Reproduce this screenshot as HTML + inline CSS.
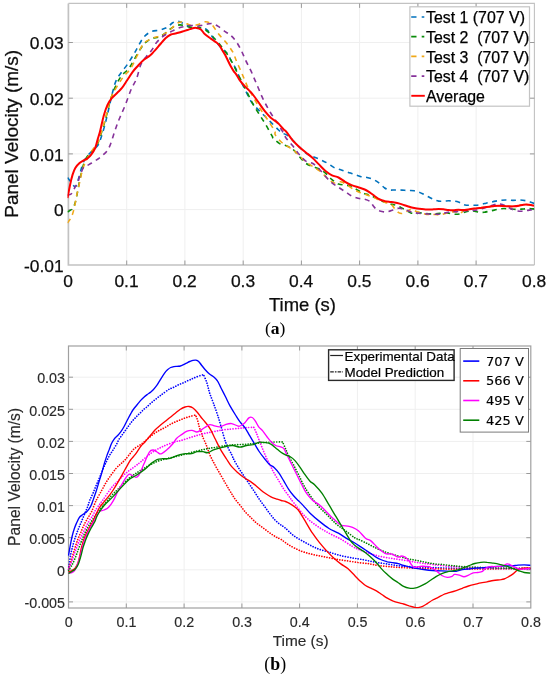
<!DOCTYPE html><html><head><meta charset="utf-8"><title>Panel Velocity</title>
<style>html,body{margin:0;padding:0;background:#fff;}svg{display:block;}</style></head><body>
<svg width="550" height="678" viewBox="0 0 550 678">
<rect x="0" y="0" width="550" height="678" fill="#fff"/>
<defs>
<clipPath id="ct"><rect x="67.5" y="3.4" width="466.9" height="261.6"/></clipPath>
<clipPath id="cb"><rect x="67.7" y="346.0" width="463.09999999999997" height="262.5"/></clipPath>
</defs>
<line x1="126.7" y1="3.4" x2="126.7" y2="265.0" stroke="#efefef" stroke-width="1"/>
<line x1="184.9" y1="3.4" x2="184.9" y2="265.0" stroke="#efefef" stroke-width="1"/>
<line x1="243.2" y1="3.4" x2="243.2" y2="265.0" stroke="#efefef" stroke-width="1"/>
<line x1="301.4" y1="3.4" x2="301.4" y2="265.0" stroke="#efefef" stroke-width="1"/>
<line x1="359.6" y1="3.4" x2="359.6" y2="265.0" stroke="#efefef" stroke-width="1"/>
<line x1="417.9" y1="3.4" x2="417.9" y2="265.0" stroke="#efefef" stroke-width="1"/>
<line x1="476.1" y1="3.4" x2="476.1" y2="265.0" stroke="#efefef" stroke-width="1"/>
<line x1="68.4" y1="42.5" x2="534.4" y2="42.5" stroke="#efefef" stroke-width="1"/>
<line x1="68.4" y1="98.2" x2="534.4" y2="98.2" stroke="#efefef" stroke-width="1"/>
<line x1="68.4" y1="153.9" x2="534.4" y2="153.9" stroke="#efefef" stroke-width="1"/>
<line x1="68.4" y1="209.6" x2="534.4" y2="209.6" stroke="#efefef" stroke-width="1"/>
<path d="M68.4,3.4 H534.4 V265.0" fill="none" stroke="#c2c2c2" stroke-width="1.1"/>
<path d="M68.4,3.4 V265.0 H534.4" fill="none" stroke="#c2c2c2" stroke-width="1.7"/>
<line x1="126.7" y1="265.0" x2="126.7" y2="260.5" stroke="#9a9a9a" stroke-width="1"/>
<line x1="126.7" y1="3.4" x2="126.7" y2="7.9" stroke="#9a9a9a" stroke-width="1"/>
<line x1="184.9" y1="265.0" x2="184.9" y2="260.5" stroke="#9a9a9a" stroke-width="1"/>
<line x1="184.9" y1="3.4" x2="184.9" y2="7.9" stroke="#9a9a9a" stroke-width="1"/>
<line x1="243.2" y1="265.0" x2="243.2" y2="260.5" stroke="#9a9a9a" stroke-width="1"/>
<line x1="243.2" y1="3.4" x2="243.2" y2="7.9" stroke="#9a9a9a" stroke-width="1"/>
<line x1="301.4" y1="265.0" x2="301.4" y2="260.5" stroke="#9a9a9a" stroke-width="1"/>
<line x1="301.4" y1="3.4" x2="301.4" y2="7.9" stroke="#9a9a9a" stroke-width="1"/>
<line x1="359.6" y1="265.0" x2="359.6" y2="260.5" stroke="#9a9a9a" stroke-width="1"/>
<line x1="359.6" y1="3.4" x2="359.6" y2="7.9" stroke="#9a9a9a" stroke-width="1"/>
<line x1="417.9" y1="265.0" x2="417.9" y2="260.5" stroke="#9a9a9a" stroke-width="1"/>
<line x1="417.9" y1="3.4" x2="417.9" y2="7.9" stroke="#9a9a9a" stroke-width="1"/>
<line x1="476.1" y1="265.0" x2="476.1" y2="260.5" stroke="#9a9a9a" stroke-width="1"/>
<line x1="476.1" y1="3.4" x2="476.1" y2="7.9" stroke="#9a9a9a" stroke-width="1"/>
<line x1="68.4" y1="42.5" x2="72.9" y2="42.5" stroke="#9a9a9a" stroke-width="1"/>
<line x1="534.4" y1="42.5" x2="529.9" y2="42.5" stroke="#9a9a9a" stroke-width="1"/>
<line x1="68.4" y1="98.2" x2="72.9" y2="98.2" stroke="#9a9a9a" stroke-width="1"/>
<line x1="534.4" y1="98.2" x2="529.9" y2="98.2" stroke="#9a9a9a" stroke-width="1"/>
<line x1="68.4" y1="153.9" x2="72.9" y2="153.9" stroke="#9a9a9a" stroke-width="1"/>
<line x1="534.4" y1="153.9" x2="529.9" y2="153.9" stroke="#9a9a9a" stroke-width="1"/>
<line x1="68.4" y1="209.6" x2="72.9" y2="209.6" stroke="#9a9a9a" stroke-width="1"/>
<line x1="534.4" y1="209.6" x2="529.9" y2="209.6" stroke="#9a9a9a" stroke-width="1"/>
<g clip-path="url(#ct)" fill="none" stroke-linejoin="round">
<path d="M67.5,177.5 C68.1,178.3 70.1,181.0 71.3,182.5 C72.5,184.0 73.7,186.1 74.6,186.5 C75.5,186.9 75.8,187.0 76.6,185.2 C77.4,183.4 78.4,179.0 79.3,175.9 C80.2,172.8 81.0,169.3 81.9,166.6 C82.8,163.9 83.5,161.9 84.6,159.9 C85.7,157.9 87.0,156.4 88.6,154.6 C90.1,152.8 92.4,150.9 93.9,149.3 C95.5,147.8 96.9,146.8 97.9,145.3 C99.0,143.8 99.1,143.3 100.2,140.2 C101.3,137.0 103.2,131.1 104.5,126.4 C105.8,121.7 106.6,117.8 108.0,112.0 C109.4,106.2 111.3,97.1 112.7,91.8 C114.1,86.5 114.9,83.3 116.4,80.0 C117.9,76.7 120.0,74.4 121.8,71.8 C123.6,69.2 125.3,67.4 127.3,64.5 C129.3,61.6 131.8,57.5 133.6,54.5 C135.4,51.5 136.5,49.3 138.2,46.4 C139.9,43.5 141.5,39.7 143.6,37.3 C145.7,34.9 148.2,33.0 150.9,31.8 C153.6,30.6 157.3,30.8 160.0,30.0 C162.7,29.2 165.2,28.5 167.3,27.3 C169.4,26.1 170.9,23.7 172.7,22.7 C174.5,21.7 176.4,21.1 178.2,21.3 C180.0,21.5 181.8,22.7 183.6,23.6 C185.4,24.5 187.2,25.9 189.0,26.7 C190.8,27.5 192.8,28.0 194.5,28.2 C196.2,28.4 197.8,27.6 199.0,27.6 C200.2,27.6 200.4,27.8 201.8,28.2 C203.2,28.6 205.5,28.5 207.3,30.0 C209.1,31.5 210.6,34.6 212.7,37.3 C214.8,40.0 217.6,43.7 220.0,46.4 C222.4,49.1 225.4,51.1 227.3,53.6 C229.2,56.1 229.9,58.5 231.5,61.3 C233.1,64.1 235.1,67.0 236.6,70.2 C238.1,73.4 239.0,77.0 240.5,80.4 C242.0,83.8 243.8,87.1 245.5,90.5 C247.2,93.9 248.7,97.7 250.6,100.7 C252.5,103.7 254.9,106.1 257.0,108.4 C259.1,110.7 261.1,112.4 263.4,114.7 C265.7,117.0 268.5,119.9 271.0,122.4 C273.5,125.0 276.8,128.3 278.6,130.0 C280.4,131.7 280.2,131.7 281.8,132.7 C283.4,133.7 286.2,134.4 288.4,136.0 C290.6,137.6 292.7,140.3 294.9,142.5 C297.1,144.7 299.3,147.1 301.5,149.1 C303.7,151.1 305.8,153.2 308.0,154.5 C310.2,155.8 312.3,156.3 314.5,157.2 C316.7,158.1 318.9,159.0 321.1,160.0 C323.3,161.0 325.4,162.0 327.6,163.3 C329.8,164.6 332.0,166.5 334.2,167.6 C336.4,168.7 338.5,169.1 340.7,169.8 C342.9,170.5 345.1,171.3 347.3,172.0 C349.5,172.7 351.6,173.5 353.8,174.2 C356.0,174.9 358.2,175.8 360.4,176.4 C362.6,177.0 364.7,177.0 366.9,177.5 C369.1,178.0 371.5,178.7 373.5,179.6 C375.5,180.5 377.0,181.5 378.9,182.9 C380.8,184.3 382.9,186.8 384.7,188.0 C386.5,189.2 388.0,189.7 389.6,190.0 C391.2,190.3 392.9,190.0 394.5,190.0 C396.1,190.0 397.9,189.9 399.5,190.0 C401.1,190.1 402.8,190.2 404.4,190.3 C406.0,190.4 407.7,190.4 409.3,190.5 C410.9,190.6 412.6,190.5 414.2,190.8 C415.8,191.1 417.5,191.5 419.1,192.1 C420.7,192.7 422.4,193.7 424.0,194.5 C425.6,195.3 427.3,196.2 428.9,197.0 C430.5,197.8 432.2,198.8 433.8,199.5 C435.4,200.2 437.1,200.8 438.7,201.1 C440.3,201.4 442.0,201.1 443.6,201.1 C445.2,201.1 447.0,200.8 448.6,200.8 C450.2,200.8 451.9,200.9 453.5,201.1 C455.1,201.3 456.8,201.3 458.4,201.9 C460.0,202.5 461.8,203.9 463.1,204.4 C464.4,204.9 465.0,205.1 466.4,205.2 C467.8,205.3 469.7,205.2 471.3,205.2 C472.9,205.2 474.6,205.3 476.2,205.2 C477.8,205.1 479.5,204.7 481.1,204.4 C482.7,204.1 484.4,203.6 486.0,203.2 C487.6,202.8 489.3,202.5 490.9,202.2 C492.5,201.8 494.2,201.4 495.8,201.1 C497.4,200.8 499.1,200.5 500.7,200.3 C502.3,200.1 504.0,200.0 505.6,200.0 C507.2,200.0 509.0,200.2 510.6,200.3 C512.2,200.4 513.9,200.4 515.5,200.3 C517.1,200.2 518.8,199.9 520.4,200.0 C522.0,200.1 523.7,200.3 525.3,200.6 C526.9,200.9 528.7,201.4 530.2,201.9 C531.7,202.4 533.6,203.3 534.3,203.6" stroke="#0072BD" stroke-width="1.6" stroke-dasharray="5 4.5"/>
<path d="M67.5,212.0 C68.3,211.4 71.3,210.0 72.6,208.4 C73.9,206.8 74.5,205.0 75.3,202.5 C76.1,200.0 76.6,196.5 77.3,193.2 C78.0,189.9 78.6,185.8 79.3,182.5 C80.0,179.2 80.6,176.1 81.3,173.2 C82.0,170.3 82.5,167.6 83.3,165.2 C84.1,162.8 84.8,160.6 85.9,158.6 C87.0,156.6 88.6,154.9 89.9,153.3 C91.2,151.8 92.5,151.2 93.9,149.3 C95.3,147.4 96.5,146.8 98.3,142.1 C100.1,137.4 102.9,128.3 105.0,121.0 C107.1,113.7 109.0,104.6 110.9,98.5 C112.8,92.4 114.6,88.3 116.4,84.5 C118.2,80.7 119.7,78.2 121.8,75.5 C123.9,72.8 126.9,71.0 129.0,68.2 C131.1,65.5 132.5,62.3 134.5,59.0 C136.5,55.7 138.9,51.1 140.9,48.2 C142.9,45.3 144.4,43.5 146.4,41.8 C148.4,40.1 150.7,39.0 152.7,38.2 C154.7,37.5 156.4,37.9 158.2,37.3 C160.0,36.7 161.8,35.7 163.6,34.5 C165.4,33.3 167.2,31.4 169.0,30.0 C170.8,28.6 172.7,27.2 174.5,26.4 C176.3,25.5 178.2,25.0 180.0,24.9 C181.8,24.8 183.7,25.6 185.5,26.0 C187.3,26.4 189.2,26.9 191.0,27.3 C192.8,27.7 195.2,28.2 196.4,28.2 C197.6,28.2 196.7,27.0 198.2,27.3 C199.7,27.6 203.2,28.6 205.5,30.0 C207.8,31.4 209.7,33.4 211.8,35.5 C213.9,37.6 215.9,40.0 218.2,42.7 C220.5,45.4 223.3,48.7 225.5,51.8 C227.7,54.9 229.4,57.6 231.5,61.3 C233.6,65.0 236.0,70.2 237.9,74.0 C239.8,77.8 241.3,80.8 243.0,84.2 C244.7,87.6 246.4,91.0 248.1,94.4 C249.8,97.8 251.3,101.1 253.2,104.5 C255.1,107.9 257.4,111.3 259.5,114.7 C261.6,118.1 263.8,121.3 265.9,124.9 C268.0,128.5 271.1,134.2 272.3,136.4 C273.5,138.6 271.9,137.0 273.1,138.2 C274.3,139.4 277.4,142.3 279.6,143.6 C281.8,144.9 284.0,144.9 286.2,145.8 C288.4,146.7 290.5,147.3 292.7,149.1 C294.9,150.9 297.1,154.3 299.3,156.7 C301.5,159.1 303.6,161.7 305.8,163.3 C308.0,164.9 310.2,165.6 312.4,166.5 C314.6,167.4 316.7,167.6 318.9,168.7 C321.1,169.8 323.3,171.3 325.5,173.1 C327.7,174.9 329.8,177.8 332.0,179.6 C334.2,181.4 336.3,183.1 338.5,184.0 C340.7,184.9 342.9,184.7 345.1,185.1 C347.3,185.5 349.4,185.3 351.6,186.2 C353.8,187.1 356.0,189.2 358.2,190.5 C360.4,191.8 362.9,193.1 364.7,193.8 C366.5,194.5 367.4,194.3 369.1,194.9 C370.8,195.5 373.0,196.6 375.0,197.5 C377.0,198.4 379.1,199.6 381.0,200.5 C382.9,201.4 384.5,202.0 386.4,202.7 C388.2,203.3 390.5,204.0 392.1,204.4 C393.7,204.8 394.7,204.7 396.2,205.2 C397.7,205.7 399.5,206.8 401.1,207.6 C402.7,208.4 404.4,209.2 406.0,210.1 C407.6,211.0 409.3,212.3 410.9,212.9 C412.5,213.5 414.2,213.5 415.8,213.5 C417.4,213.5 419.1,212.9 420.7,212.9 C422.3,212.9 424.0,213.2 425.6,213.4 C427.2,213.6 429.0,213.8 430.6,213.9 C432.2,214.0 433.9,214.0 435.5,213.9 C437.1,213.8 438.8,213.6 440.4,213.4 C442.0,213.2 443.7,212.9 445.3,212.9 C446.9,212.9 448.6,213.2 450.2,213.4 C451.8,213.6 453.5,214.2 455.1,214.3 C456.7,214.4 458.2,214.2 459.8,213.9 C461.4,213.6 463.1,212.6 464.7,212.2 C466.3,211.8 468.0,211.4 469.6,211.2 C471.2,211.0 472.9,211.0 474.5,211.2 C476.1,211.4 477.9,212.0 479.5,212.2 C481.1,212.4 482.8,212.4 484.4,212.2 C486.0,212.0 487.7,211.5 489.3,211.2 C490.9,210.8 492.6,210.5 494.2,210.1 C495.8,209.7 497.5,209.3 499.1,209.0 C500.7,208.7 502.4,208.5 504.0,208.5 C505.6,208.5 507.3,208.9 508.9,209.0 C510.5,209.1 512.2,209.2 513.8,209.3 C515.4,209.4 517.1,209.4 518.7,209.3 C520.3,209.2 522.0,209.1 523.6,209.0 C525.2,208.9 526.8,208.5 528.6,208.5 C530.4,208.5 533.3,208.9 534.3,209.0" stroke="#0a8c0a" stroke-width="1.6" stroke-dasharray="5 4.5"/>
<path d="M67.5,223.0 C68.1,222.0 70.2,219.4 71.3,217.1 C72.4,214.8 73.1,212.6 74.0,209.1 C74.9,205.6 75.7,200.0 76.6,195.8 C77.5,191.6 78.4,187.9 79.3,183.9 C80.2,179.9 81.0,175.2 81.9,171.9 C82.8,168.6 83.5,166.6 84.6,163.9 C85.7,161.2 87.0,158.6 88.6,155.9 C90.1,153.2 92.3,150.3 93.9,148.0 C95.5,145.7 96.2,146.7 98.0,142.0 C99.8,137.3 102.8,127.3 105.0,120.0 C107.2,112.7 108.7,103.9 110.9,98.0 C113.1,92.1 116.0,88.2 118.2,84.5 C120.4,80.8 121.9,78.7 124.0,76.0 C126.1,73.3 128.7,71.6 130.9,68.2 C133.1,64.8 135.2,59.6 137.3,55.5 C139.4,51.4 141.0,46.5 143.6,43.6 C146.2,40.7 150.0,39.5 152.7,38.2 C155.4,36.9 157.8,36.9 160.0,36.0 C162.2,35.1 164.0,34.3 166.0,33.0 C168.0,31.7 170.0,29.7 172.0,28.0 C174.0,26.3 176.3,23.6 178.2,22.7 C180.1,21.8 181.5,21.9 183.6,22.4 C185.7,22.9 188.5,25.1 190.9,25.5 C193.3,25.9 195.8,25.1 198.2,24.5 C200.6,23.9 203.2,21.8 205.5,21.8 C207.8,21.8 209.7,22.5 211.8,24.5 C213.9,26.5 215.9,30.7 218.2,33.6 C220.5,36.5 223.1,38.8 225.5,41.8 C227.9,44.8 230.9,48.8 232.7,51.8 C234.4,54.8 234.7,56.9 236.0,60.0 C237.3,63.1 239.1,67.0 240.5,70.2 C241.9,73.4 243.0,76.1 244.3,79.1 C245.6,82.1 246.6,85.0 248.1,88.0 C249.6,91.0 251.5,93.9 253.2,96.9 C254.9,99.9 256.6,103.0 258.3,105.8 C260.0,108.6 261.7,111.0 263.4,113.5 C265.1,116.0 266.6,118.1 268.5,121.1 C270.4,124.1 273.7,129.0 274.8,131.3 C275.9,133.6 274.1,133.0 275.3,134.9 C276.5,136.8 279.6,140.5 281.8,142.5 C284.0,144.5 286.2,145.4 288.4,146.9 C290.6,148.4 292.7,149.5 294.9,151.3 C297.1,153.1 299.3,155.8 301.5,157.8 C303.7,159.8 305.8,161.7 308.0,163.3 C310.2,164.9 312.3,166.2 314.5,167.6 C316.7,169.0 318.9,170.2 321.1,172.0 C323.3,173.8 325.4,176.7 327.6,178.5 C329.8,180.3 332.0,182.3 334.2,182.9 C336.4,183.5 338.5,181.4 340.7,181.8 C342.9,182.2 345.1,183.8 347.3,185.1 C349.5,186.4 351.6,188.2 353.8,189.5 C356.0,190.8 358.2,191.8 360.4,192.7 C362.6,193.6 364.6,194.1 366.9,194.9 C369.2,195.7 371.6,196.5 374.0,197.5 C376.4,198.5 379.4,200.2 381.5,201.1 C383.6,202.0 384.8,202.1 386.4,202.7 C388.0,203.2 389.9,203.4 391.3,204.4 C392.7,205.4 393.3,207.1 394.5,208.5 C395.7,209.9 397.2,211.8 398.6,212.6 C400.0,213.4 401.2,213.7 402.7,213.4 C404.2,213.1 406.1,211.6 407.6,210.9 C409.1,210.2 410.3,209.2 411.7,209.3 C413.1,209.4 414.3,210.6 415.8,211.2 C417.3,211.8 419.1,212.1 420.7,212.6 C422.3,213.1 424.0,213.9 425.6,214.2 C427.2,214.5 429.0,214.4 430.6,214.5 C432.2,214.6 433.9,214.4 435.5,214.5 C437.1,214.6 438.8,215.2 440.4,215.0 C442.0,214.8 443.7,213.9 445.3,213.4 C446.9,212.9 448.6,212.5 450.2,212.2 C451.8,211.9 453.5,211.5 455.1,211.7 C456.7,211.9 458.2,213.7 459.8,213.4 C461.4,213.1 463.1,210.8 464.7,210.1 C466.3,209.4 468.0,209.6 469.6,209.3 C471.2,209.0 472.9,208.7 474.5,208.5 C476.1,208.3 477.9,208.2 479.5,208.0 C481.1,207.8 482.8,207.5 484.4,207.3 C486.0,207.1 487.7,206.9 489.3,206.7 C490.9,206.5 492.6,206.2 494.2,206.0 C495.8,205.8 497.5,205.7 499.1,205.7 C500.7,205.7 502.4,205.9 504.0,206.0 C505.6,206.1 507.3,206.2 508.9,206.3 C510.5,206.4 512.2,206.4 513.8,206.3 C515.4,206.2 517.1,206.0 518.7,205.7 C520.3,205.4 522.0,204.9 523.6,204.7 C525.2,204.5 526.9,204.5 528.6,204.7 C530.3,204.9 533.1,205.5 534.0,205.7" stroke="#F0A818" stroke-width="1.6" stroke-dasharray="5 4.5"/>
<path d="M67.5,195.3 C68.2,195.0 70.7,194.7 72.0,193.2 C73.3,191.7 74.4,188.1 75.3,186.5 C76.2,184.9 76.5,185.7 77.3,183.9 C78.1,182.1 78.9,178.6 79.9,175.9 C80.9,173.2 82.2,169.6 83.3,167.9 C84.4,166.2 85.3,166.7 86.6,165.9 C87.9,165.1 89.5,164.3 91.2,163.3 C92.9,162.3 94.8,161.1 96.6,159.9 C98.4,158.7 99.9,157.9 101.9,155.9 C104.0,153.9 106.6,152.4 108.9,147.9 C111.2,143.4 113.8,133.8 115.6,128.7 C117.4,123.6 118.3,121.3 120.0,117.3 C121.7,113.3 123.7,109.0 125.5,104.5 C127.3,100.0 129.1,94.2 130.9,90.0 C132.7,85.8 134.7,83.2 136.4,79.0 C138.1,74.8 139.2,68.3 140.9,64.5 C142.6,60.7 144.6,58.8 146.4,56.4 C148.2,54.0 150.1,52.3 151.8,50.0 C153.5,47.7 154.7,44.8 156.4,42.7 C158.1,40.6 160.0,38.8 161.8,37.3 C163.6,35.8 165.5,34.7 167.3,33.6 C169.1,32.5 170.9,31.8 172.7,30.9 C174.5,30.0 176.4,28.9 178.2,28.2 C180.0,27.5 181.5,27.1 183.6,26.7 C185.7,26.2 188.5,25.6 190.9,25.5 C193.3,25.4 195.8,26.2 198.2,26.0 C200.6,25.8 203.2,24.9 205.5,24.5 C207.8,24.1 209.7,23.3 211.8,23.6 C213.9,23.9 215.9,25.0 218.2,26.4 C220.5,27.8 223.4,30.3 225.5,31.8 C227.6,33.3 229.1,33.8 230.9,35.5 C232.7,37.2 234.6,39.2 236.4,41.8 C238.2,44.4 240.0,48.0 241.5,51.0 C243.0,54.0 244.0,56.8 245.5,60.0 C247.0,63.2 249.1,67.0 250.6,70.2 C252.1,73.4 253.2,76.1 254.5,79.1 C255.8,82.1 257.0,85.0 258.3,88.0 C259.6,91.0 260.8,94.2 262.1,96.9 C263.4,99.7 264.4,101.7 265.9,104.5 C267.4,107.3 269.3,110.7 271.0,113.5 C272.7,116.3 274.2,118.1 276.1,121.1 C278.0,124.1 280.8,128.5 282.5,131.3 C284.2,134.2 284.5,135.8 286.2,138.2 C287.9,140.6 290.5,143.1 292.7,145.8 C294.9,148.5 297.1,151.9 299.3,154.5 C301.5,157.1 303.6,159.6 305.8,161.1 C308.0,162.6 310.2,162.0 312.4,163.3 C314.6,164.6 316.7,166.5 318.9,168.7 C321.1,170.9 323.3,174.0 325.5,176.4 C327.7,178.8 329.8,181.1 332.0,182.9 C334.2,184.7 336.3,185.9 338.5,187.3 C340.7,188.8 342.9,190.2 345.1,191.6 C347.3,193.0 349.4,194.9 351.6,196.0 C353.8,197.1 356.0,197.6 358.2,198.2 C360.4,198.8 362.6,198.7 364.7,199.3 C366.8,199.9 369.1,200.7 370.5,201.8 C371.9,202.9 372.2,204.6 373.3,206.0 C374.4,207.4 375.8,209.2 377.4,210.1 C379.0,211.0 381.3,211.4 383.1,211.7 C384.9,212.0 386.4,212.0 388.0,211.7 C389.6,211.4 391.4,210.6 392.9,210.1 C394.4,209.6 395.6,208.8 397.0,208.5 C398.4,208.2 399.6,208.2 401.1,208.5 C402.6,208.8 404.4,209.6 406.0,210.1 C407.6,210.6 409.3,211.2 410.9,211.7 C412.5,212.2 414.2,212.6 415.8,212.9 C417.4,213.2 419.1,213.2 420.7,213.4 C422.3,213.6 424.0,213.8 425.6,213.9 C427.2,214.0 429.0,214.1 430.6,214.2 C432.2,214.2 433.9,214.2 435.5,214.2 C437.1,214.2 438.8,214.4 440.4,214.2 C442.0,214.0 443.7,213.3 445.3,212.9 C446.9,212.5 448.6,211.9 450.2,211.7 C451.8,211.5 453.1,211.8 455.1,211.7 C457.1,211.6 459.5,211.2 462.0,211.0 C464.5,210.8 467.5,210.7 470.0,210.5 C472.5,210.3 474.9,210.3 477.0,210.0 C479.1,209.7 480.9,209.0 482.7,208.5 C484.5,208.0 486.0,207.4 487.6,206.8 C489.2,206.2 491.0,205.7 492.6,205.2 C494.2,204.7 495.9,204.0 497.5,203.9 C499.1,203.8 500.8,203.9 502.4,204.4 C504.0,204.9 505.7,206.0 507.3,206.8 C508.9,207.6 510.6,208.6 512.2,209.3 C513.8,210.0 515.5,210.6 517.1,210.9 C518.7,211.2 520.4,211.2 522.0,211.2 C523.6,211.1 525.3,210.9 526.9,210.6 C528.5,210.3 530.6,209.8 531.8,209.6 C533.0,209.4 533.9,209.5 534.3,209.5" stroke="#86329a" stroke-width="1.6" stroke-dasharray="5 4.5"/>
<path d="M67.5,198.0 C67.9,195.9 69.2,189.1 70.0,185.2 C70.8,181.3 71.7,177.5 72.6,174.6 C73.5,171.7 74.2,169.8 75.3,167.9 C76.4,166.0 78.0,164.5 79.3,163.3 C80.6,162.1 82.0,161.4 83.3,160.6 C84.6,159.8 85.9,159.6 87.2,158.6 C88.5,157.6 89.9,156.4 91.2,154.6 C92.5,152.8 94.2,150.4 95.2,148.0 C96.2,145.6 96.7,142.9 97.5,140.0 C98.3,137.1 99.2,134.8 100.2,130.7 C101.2,126.6 102.6,119.7 103.8,115.4 C105.0,111.1 106.2,107.7 107.5,104.8 C108.8,101.9 110.2,100.2 111.8,98.2 C113.4,96.2 115.6,94.4 117.3,92.7 C119.0,91.0 120.1,90.3 121.8,88.2 C123.5,86.1 125.5,82.7 127.3,80.0 C129.1,77.3 130.9,74.2 132.7,71.8 C134.5,69.4 136.4,67.5 138.2,65.5 C140.0,63.5 141.6,61.7 143.6,60.0 C145.6,58.3 148.2,57.0 150.0,55.5 C151.8,54.0 152.8,52.7 154.5,50.9 C156.2,49.1 158.2,46.6 160.0,44.5 C161.8,42.4 163.7,39.9 165.5,38.2 C167.3,36.5 169.1,35.3 170.9,34.5 C172.7,33.7 174.6,33.8 176.4,33.3 C178.2,32.8 180.0,32.4 181.8,31.8 C183.6,31.2 185.5,30.6 187.3,30.0 C189.1,29.4 191.2,28.6 192.7,28.2 C194.2,27.8 195.0,27.7 196.4,27.9 C197.8,28.1 199.5,28.4 200.9,29.5 C202.3,30.6 203.3,32.8 205.0,34.3 C206.7,35.8 208.9,37.2 210.8,38.6 C212.7,40.0 215.1,41.4 216.5,42.5 C217.9,43.6 218.4,44.1 219.4,45.4 C220.4,46.7 221.3,48.6 222.3,50.2 C223.3,51.8 224.2,53.2 225.2,55.0 C226.1,56.8 227.1,58.8 228.0,60.7 C228.9,62.6 229.9,64.7 230.9,66.5 C231.9,68.3 232.8,69.9 233.8,71.3 C234.8,72.7 235.8,73.7 236.7,75.1 C237.6,76.5 238.4,78.3 239.5,79.9 C240.6,81.5 242.1,83.3 243.4,84.7 C244.7,86.1 246.1,87.4 247.2,88.5 C248.3,89.6 249.0,90.3 250.0,91.4 C251.0,92.5 251.8,93.2 253.2,95.0 C254.6,96.8 256.4,99.3 258.3,102.0 C260.2,104.7 262.5,108.2 264.6,110.9 C266.7,113.6 268.9,116.0 271.0,117.9 C273.1,119.9 275.3,120.7 277.4,122.6 C279.5,124.5 282.2,128.0 283.7,129.5 C285.2,131.0 284.7,129.8 286.2,131.6 C287.7,133.4 290.5,137.8 292.7,140.4 C294.9,143.0 297.1,144.9 299.3,146.9 C301.5,148.9 303.6,150.6 305.8,152.4 C308.0,154.2 310.2,155.8 312.4,157.8 C314.6,159.8 316.7,162.2 318.9,164.4 C321.1,166.6 323.3,169.1 325.5,170.9 C327.7,172.7 329.8,174.2 332.0,175.3 C334.2,176.4 336.3,176.4 338.5,177.5 C340.7,178.6 342.9,180.5 345.1,181.8 C347.3,183.1 349.4,184.2 351.6,185.1 C353.8,186.0 356.0,186.6 358.2,187.3 C360.4,188.0 362.6,188.6 364.7,189.5 C366.8,190.4 368.8,191.9 370.5,193.0 C372.2,194.1 373.3,195.1 374.9,196.2 C376.4,197.3 378.2,198.7 379.8,199.5 C381.4,200.3 383.1,200.7 384.7,201.1 C386.3,201.5 388.0,201.7 389.6,201.9 C391.2,202.1 392.9,202.1 394.5,202.4 C396.1,202.7 397.9,203.1 399.5,203.6 C401.1,204.1 402.8,204.7 404.4,205.2 C406.0,205.7 407.7,206.3 409.3,206.8 C410.9,207.3 412.6,207.7 414.2,208.0 C415.8,208.3 417.5,208.6 419.1,208.8 C420.7,209.0 422.4,209.2 424.0,209.3 C425.6,209.4 427.3,209.6 428.9,209.6 C430.5,209.6 432.2,209.4 433.8,209.3 C435.4,209.2 437.1,209.0 438.7,209.0 C440.3,209.0 442.0,209.1 443.6,209.3 C445.2,209.5 447.0,209.9 448.6,210.1 C450.2,210.3 451.9,210.4 453.5,210.3 C455.1,210.2 456.5,209.8 458.4,209.8 C460.3,209.8 462.8,210.2 464.7,210.1 C466.6,210.0 468.0,209.6 469.6,209.3 C471.2,209.0 472.9,208.7 474.5,208.5 C476.1,208.3 477.9,208.2 479.5,208.0 C481.1,207.8 482.8,207.5 484.4,207.3 C486.0,207.1 487.7,206.9 489.3,206.7 C490.9,206.5 492.6,206.2 494.2,206.0 C495.8,205.8 497.5,205.7 499.1,205.7 C500.7,205.7 502.4,205.9 504.0,206.0 C505.6,206.1 507.3,206.2 508.9,206.3 C510.5,206.4 512.2,206.4 513.8,206.3 C515.4,206.2 517.1,206.0 518.7,205.7 C520.3,205.4 522.0,204.9 523.6,204.7 C525.2,204.5 526.9,204.5 528.6,204.7 C530.3,204.9 533.1,205.5 534.0,205.7" stroke="#ff0000" stroke-width="2.0"/>
</g>
<g font-family="'Liberation Sans', Arial, Helvetica, sans-serif" font-size="17.4" fill="#0d0d0d" stroke="#0d0d0d" stroke-width="0.25">
<text x="63.6" y="49.1" text-anchor="end">0.03</text>
<text x="63.6" y="104.8" text-anchor="end">0.02</text>
<text x="63.6" y="160.5" text-anchor="end">0.01</text>
<text x="63.6" y="216.2" text-anchor="end">0</text>
<text x="63.6" y="271.9" text-anchor="end">-0.01</text>
<text x="68.2" y="287.1" text-anchor="middle">0</text>
<text x="126.5" y="287.1" text-anchor="middle">0.1</text>
<text x="184.7" y="287.1" text-anchor="middle">0.2</text>
<text x="243.0" y="287.1" text-anchor="middle">0.3</text>
<text x="301.2" y="287.1" text-anchor="middle">0.4</text>
<text x="359.4" y="287.1" text-anchor="middle">0.5</text>
<text x="417.7" y="287.1" text-anchor="middle">0.6</text>
<text x="475.9" y="287.1" text-anchor="middle">0.7</text>
<text x="534.2" y="287.1" text-anchor="middle">0.8</text>
</g>
<text x="302.5" y="310.6" text-anchor="middle" font-family="'Liberation Sans', Arial, Helvetica, sans-serif" font-size="18.2" textLength="67" lengthAdjust="spacingAndGlyphs" fill="#0d0d0d" stroke="#0d0d0d" stroke-width="0.25">Time (s)</text>
<text transform="translate(18.2,133.8) rotate(-90)" text-anchor="middle" font-family="'Liberation Sans', Arial, Helvetica, sans-serif" font-size="18" textLength="168" lengthAdjust="spacingAndGlyphs" fill="#0d0d0d" stroke="#0d0d0d" stroke-width="0.25">Panel Velocity (m/s)</text>
<text x="275.2" y="334" text-anchor="middle" font-family="'Liberation Serif', 'Times New Roman', serif" font-size="17.5" fill="#000">(<tspan font-weight="bold">a</tspan>)</text>
<rect x="409.9" y="6.8" width="119.60000000000002" height="99.4" fill="#fff" stroke="#c4c4c4" stroke-width="1.2"/>
<line x1="411.2" y1="17.0" x2="424.3" y2="17.0" stroke="#0072BD" stroke-width="1.7" stroke-dasharray="5.3 5.2"/>
<text x="426" y="23.3" font-family="'Liberation Sans', Arial, Helvetica, sans-serif" font-size="15.9" fill="#000" stroke="#000" stroke-width="0.25">Test 1 (707 V)</text>
<line x1="411.2" y1="36.7" x2="424.3" y2="36.7" stroke="#0a8c0a" stroke-width="1.7" stroke-dasharray="5.3 5.2"/>
<text x="426" y="43.0" font-family="'Liberation Sans', Arial, Helvetica, sans-serif" font-size="15.9" fill="#000" stroke="#000" stroke-width="0.25">Test 2  (707 V)</text>
<line x1="411.2" y1="56.4" x2="424.3" y2="56.4" stroke="#F0A818" stroke-width="1.7" stroke-dasharray="5.3 5.2"/>
<text x="426" y="62.7" font-family="'Liberation Sans', Arial, Helvetica, sans-serif" font-size="15.9" fill="#000" stroke="#000" stroke-width="0.25">Test 3  (707 V)</text>
<line x1="411.2" y1="76.1" x2="424.3" y2="76.1" stroke="#86329a" stroke-width="1.7" stroke-dasharray="5.3 5.2"/>
<text x="426" y="82.4" font-family="'Liberation Sans', Arial, Helvetica, sans-serif" font-size="15.9" fill="#000" stroke="#000" stroke-width="0.25">Test 4  (707 V)</text>
<line x1="411.3" y1="95.8" x2="424.8" y2="95.8" stroke="#ff0000" stroke-width="1.9"/>
<text x="426" y="102.1" font-family="'Liberation Sans', Arial, Helvetica, sans-serif" font-size="15.9" fill="#000" stroke="#000" stroke-width="0.25">Average</text>
<line x1="126.3" y1="346.0" x2="126.3" y2="608.0" stroke="#efefef" stroke-width="1"/>
<line x1="184.1" y1="346.0" x2="184.1" y2="608.0" stroke="#efefef" stroke-width="1"/>
<line x1="241.9" y1="346.0" x2="241.9" y2="608.0" stroke="#efefef" stroke-width="1"/>
<line x1="299.6" y1="346.0" x2="299.6" y2="608.0" stroke="#efefef" stroke-width="1"/>
<line x1="357.4" y1="346.0" x2="357.4" y2="608.0" stroke="#efefef" stroke-width="1"/>
<line x1="415.2" y1="346.0" x2="415.2" y2="608.0" stroke="#efefef" stroke-width="1"/>
<line x1="473.0" y1="346.0" x2="473.0" y2="608.0" stroke="#efefef" stroke-width="1"/>
<line x1="68.5" y1="601.9" x2="530.8" y2="601.9" stroke="#efefef" stroke-width="1"/>
<line x1="68.5" y1="569.8" x2="530.8" y2="569.8" stroke="#efefef" stroke-width="1"/>
<line x1="68.5" y1="537.7" x2="530.8" y2="537.7" stroke="#efefef" stroke-width="1"/>
<line x1="68.5" y1="505.6" x2="530.8" y2="505.6" stroke="#efefef" stroke-width="1"/>
<line x1="68.5" y1="473.5" x2="530.8" y2="473.5" stroke="#efefef" stroke-width="1"/>
<line x1="68.5" y1="441.4" x2="530.8" y2="441.4" stroke="#efefef" stroke-width="1"/>
<line x1="68.5" y1="409.3" x2="530.8" y2="409.3" stroke="#efefef" stroke-width="1"/>
<line x1="68.5" y1="377.2" x2="530.8" y2="377.2" stroke="#efefef" stroke-width="1"/>
<rect x="68.5" y="346.0" width="462.29999999999995" height="262.0" fill="none" stroke="#a0a0a0" stroke-width="1.2"/>
<line x1="126.3" y1="608.0" x2="126.3" y2="603.5" stroke="#9a9a9a" stroke-width="1"/>
<line x1="126.3" y1="346.0" x2="126.3" y2="350.5" stroke="#9a9a9a" stroke-width="1"/>
<line x1="184.1" y1="608.0" x2="184.1" y2="603.5" stroke="#9a9a9a" stroke-width="1"/>
<line x1="184.1" y1="346.0" x2="184.1" y2="350.5" stroke="#9a9a9a" stroke-width="1"/>
<line x1="241.9" y1="608.0" x2="241.9" y2="603.5" stroke="#9a9a9a" stroke-width="1"/>
<line x1="241.9" y1="346.0" x2="241.9" y2="350.5" stroke="#9a9a9a" stroke-width="1"/>
<line x1="299.6" y1="608.0" x2="299.6" y2="603.5" stroke="#9a9a9a" stroke-width="1"/>
<line x1="299.6" y1="346.0" x2="299.6" y2="350.5" stroke="#9a9a9a" stroke-width="1"/>
<line x1="357.4" y1="608.0" x2="357.4" y2="603.5" stroke="#9a9a9a" stroke-width="1"/>
<line x1="357.4" y1="346.0" x2="357.4" y2="350.5" stroke="#9a9a9a" stroke-width="1"/>
<line x1="415.2" y1="608.0" x2="415.2" y2="603.5" stroke="#9a9a9a" stroke-width="1"/>
<line x1="415.2" y1="346.0" x2="415.2" y2="350.5" stroke="#9a9a9a" stroke-width="1"/>
<line x1="473.0" y1="608.0" x2="473.0" y2="603.5" stroke="#9a9a9a" stroke-width="1"/>
<line x1="473.0" y1="346.0" x2="473.0" y2="350.5" stroke="#9a9a9a" stroke-width="1"/>
<line x1="68.5" y1="601.9" x2="73.0" y2="601.9" stroke="#9a9a9a" stroke-width="1"/>
<line x1="530.8" y1="601.9" x2="526.3" y2="601.9" stroke="#9a9a9a" stroke-width="1"/>
<line x1="68.5" y1="569.8" x2="73.0" y2="569.8" stroke="#9a9a9a" stroke-width="1"/>
<line x1="530.8" y1="569.8" x2="526.3" y2="569.8" stroke="#9a9a9a" stroke-width="1"/>
<line x1="68.5" y1="537.7" x2="73.0" y2="537.7" stroke="#9a9a9a" stroke-width="1"/>
<line x1="530.8" y1="537.7" x2="526.3" y2="537.7" stroke="#9a9a9a" stroke-width="1"/>
<line x1="68.5" y1="505.6" x2="73.0" y2="505.6" stroke="#9a9a9a" stroke-width="1"/>
<line x1="530.8" y1="505.6" x2="526.3" y2="505.6" stroke="#9a9a9a" stroke-width="1"/>
<line x1="68.5" y1="473.5" x2="73.0" y2="473.5" stroke="#9a9a9a" stroke-width="1"/>
<line x1="530.8" y1="473.5" x2="526.3" y2="473.5" stroke="#9a9a9a" stroke-width="1"/>
<line x1="68.5" y1="441.4" x2="73.0" y2="441.4" stroke="#9a9a9a" stroke-width="1"/>
<line x1="530.8" y1="441.4" x2="526.3" y2="441.4" stroke="#9a9a9a" stroke-width="1"/>
<line x1="68.5" y1="409.3" x2="73.0" y2="409.3" stroke="#9a9a9a" stroke-width="1"/>
<line x1="530.8" y1="409.3" x2="526.3" y2="409.3" stroke="#9a9a9a" stroke-width="1"/>
<line x1="68.5" y1="377.2" x2="73.0" y2="377.2" stroke="#9a9a9a" stroke-width="1"/>
<line x1="530.8" y1="377.2" x2="526.3" y2="377.2" stroke="#9a9a9a" stroke-width="1"/>
<g clip-path="url(#cb)" fill="none" stroke-linejoin="round">
<path d="M68.5,569.5 C68.9,567.0 69.9,558.8 70.7,554.6 C71.5,550.4 72.4,547.4 73.2,544.3 C74.0,541.2 74.9,538.6 75.8,536.0 C76.7,533.4 77.5,531.0 78.4,528.8 C79.3,526.6 80.1,524.7 81.0,522.6 C81.9,520.5 82.7,518.5 83.6,516.4 C84.5,514.3 85.4,512.1 86.2,510.2 C87.0,508.3 87.6,506.7 88.2,505.0 C88.8,503.3 89.1,502.0 89.9,500.0 C90.7,498.0 92.0,495.4 93.1,492.9 C94.2,490.4 95.3,487.4 96.4,484.8 C97.5,482.2 98.5,480.1 99.6,477.5 C100.7,474.9 101.8,472.0 102.9,469.4 C104.0,466.8 105.0,464.4 106.1,462.1 C107.2,459.8 108.3,457.5 109.4,455.6 C110.5,453.7 111.5,452.4 112.6,450.7 C113.7,449.0 114.8,447.2 115.9,445.3 C117.0,443.4 118.0,441.1 119.0,439.3 C120.0,437.6 121.1,436.3 122.2,434.8 C123.3,433.3 124.3,431.9 125.4,430.4 C126.5,428.9 127.5,427.3 128.6,425.9 C129.6,424.5 130.7,423.0 131.7,421.8 C132.7,420.6 133.6,419.6 134.6,418.6 C135.6,417.6 136.5,416.6 137.5,415.6 C138.5,414.6 139.6,413.6 140.7,412.5 C141.8,411.4 142.8,410.3 143.9,409.3 C145.0,408.3 146.0,407.6 147.1,406.7 C148.2,405.8 149.2,404.6 150.3,403.6 C151.4,402.7 152.4,401.9 153.5,401.0 C154.6,400.1 155.5,399.3 156.6,398.5 C157.7,397.7 158.7,396.8 159.8,396.0 C160.9,395.2 161.6,394.6 163.0,393.6 C164.4,392.6 166.8,390.7 168.2,389.8 C169.6,388.9 170.3,388.7 171.4,388.2 C172.5,387.7 173.4,387.5 174.5,387.0 C175.6,386.5 176.6,385.6 177.7,385.1 C178.8,384.6 179.8,384.2 180.9,383.8 C182.0,383.4 183.0,383.0 184.1,382.5 C185.2,382.0 186.2,381.4 187.3,380.9 C188.4,380.4 189.6,380.0 190.5,379.6 C191.4,379.2 191.9,378.9 193.0,378.4 C194.1,377.9 195.4,377.3 196.8,376.8 C198.2,376.3 200.3,375.5 201.4,375.2 C202.5,374.9 203.2,374.9 203.6,374.8 C204.1,375.9 205.6,379.2 206.4,381.4 C207.2,383.5 207.6,385.6 208.2,387.7 C208.8,389.8 209.1,391.5 210.0,394.1 C210.9,396.8 212.4,400.3 213.6,403.6 C214.8,406.9 216.0,410.2 217.3,414.1 C218.6,418.0 219.8,422.2 221.2,427.0 C222.6,431.8 224.2,438.5 226.0,443.1 C227.8,447.7 230.3,451.8 231.7,454.6 C233.0,457.4 232.8,457.6 234.1,460.0 C235.3,462.4 237.5,466.1 239.2,468.9 C240.9,471.6 242.6,473.9 244.3,476.5 C246.0,479.1 247.7,481.6 249.4,484.2 C251.1,486.8 252.8,489.2 254.5,491.8 C256.2,494.4 257.8,497.1 259.5,499.5 C261.2,501.9 262.9,504.2 264.6,506.5 C266.3,508.8 268.0,511.3 269.7,513.5 C271.4,515.7 273.1,518.0 274.8,519.8 C276.5,521.6 278.2,523.0 279.9,524.3 C281.6,525.6 282.7,525.9 285.0,527.8 C287.3,529.7 290.2,533.1 293.6,535.6 C297.0,538.1 301.5,540.5 305.4,542.6 C309.3,544.8 313.3,546.9 317.2,548.5 C321.1,550.1 325.1,550.9 329.0,552.1 C332.9,553.3 336.9,554.6 340.8,555.6 C344.7,556.6 349.3,557.4 352.5,558.0 C355.7,558.6 357.2,558.6 360.0,559.1 C362.8,559.6 366.1,560.3 369.1,560.9 C372.1,561.5 375.2,562.2 378.2,562.7 C381.2,563.2 384.3,563.5 387.3,564.0 C390.3,564.5 393.4,565.1 396.4,565.5 C399.4,565.9 402.5,566.2 405.5,566.4 C408.5,566.6 410.0,566.7 414.5,566.9 C419.0,567.1 426.6,567.4 432.7,567.6 C438.8,567.8 444.7,568.1 450.9,568.2 C457.1,568.3 463.5,568.4 470.0,568.4 C476.5,568.4 483.3,568.5 490.0,568.5 C496.7,568.5 503.3,568.5 510.0,568.5 C516.7,568.5 527.0,568.6 530.4,568.6" stroke="#0000ff" stroke-width="1.7" stroke-dasharray="0.01 2.6" stroke-linecap="round"/>
<path d="M68.5,569.5 C69.0,567.7 70.7,562.2 71.7,558.7 C72.8,555.2 73.8,551.7 74.8,548.4 C75.8,545.1 76.8,542.0 77.9,539.1 C79.0,536.2 80.4,533.4 81.5,530.8 C82.6,528.2 83.5,525.8 84.6,523.6 C85.7,521.4 87.0,519.5 88.2,517.4 C89.4,515.3 90.7,513.6 91.8,511.2 C92.9,508.8 94.2,504.9 95.0,503.0 C95.8,501.1 95.4,501.9 96.4,500.0 C97.4,498.1 99.6,494.2 101.2,491.3 C102.8,488.4 104.5,485.1 106.1,482.4 C107.7,479.7 109.4,477.4 111.0,475.1 C112.6,472.8 114.6,470.2 115.9,468.6 C117.2,467.0 118.0,466.3 119.1,465.3 C120.2,464.3 121.3,463.4 122.3,462.5 C123.3,461.6 123.9,461.2 125.0,460.0 C126.1,458.8 127.5,456.8 129.0,455.0 C130.5,453.2 132.0,450.8 134.0,449.0 C136.0,447.2 139.0,445.8 141.0,444.3 C143.0,442.9 144.5,441.6 146.0,440.3 C147.5,439.1 148.5,438.0 150.0,436.8 C151.5,435.6 153.3,434.1 155.0,433.0 C156.7,431.9 158.3,430.9 160.0,430.0 C161.7,429.1 163.3,428.4 165.0,427.5 C166.7,426.6 168.3,425.4 170.0,424.5 C171.7,423.6 173.3,422.8 175.0,422.0 C176.7,421.2 178.3,420.7 180.0,420.0 C181.7,419.3 183.3,418.6 185.0,418.0 C186.7,417.4 188.2,417.0 190.0,416.5 C191.8,416.0 194.6,415.2 195.5,415.0 C195.8,415.6 196.5,417.2 197.0,418.5 C197.5,419.8 197.9,421.4 198.3,423.0 C198.7,424.6 199.0,426.2 199.6,428.0 C200.2,429.8 201.3,432.2 201.8,433.6 C202.3,435.0 201.8,434.4 202.5,436.3 C203.2,438.2 205.1,442.0 206.3,445.1 C207.6,448.2 208.5,451.8 210.0,455.1 C211.5,458.5 213.4,462.1 215.1,465.2 C216.8,468.3 218.4,471.0 220.1,473.9 C221.8,476.8 223.6,480.2 225.1,482.7 C226.6,485.2 227.6,487.0 228.8,489.0 C230.0,491.0 231.1,492.9 232.2,494.6 C233.3,496.4 234.0,497.6 235.4,499.5 C236.8,501.4 238.8,503.7 240.5,505.8 C242.2,507.9 243.8,510.3 245.5,512.2 C247.2,514.1 248.9,515.6 250.6,517.3 C252.3,519.0 254.0,520.9 255.7,522.4 C257.4,523.9 259.1,524.9 260.8,526.2 C262.5,527.5 264.2,528.7 265.9,530.0 C267.6,531.3 269.3,532.6 271.0,533.8 C272.7,535.0 274.4,536.0 276.1,537.0 C277.8,538.0 279.1,538.2 281.2,539.5 C283.3,540.8 285.6,543.1 288.9,545.0 C292.1,546.9 296.8,549.3 300.7,550.9 C304.6,552.5 308.6,553.4 312.5,554.4 C316.4,555.4 320.3,556.0 324.2,556.8 C328.1,557.6 332.1,558.5 336.0,559.2 C339.9,559.9 343.9,560.4 347.8,561.0 C351.7,561.6 355.9,562.2 359.6,562.7 C363.3,563.2 366.9,563.4 370.0,563.9 C373.1,564.4 375.3,565.1 378.2,565.5 C381.1,565.9 384.3,566.1 387.3,566.4 C390.3,566.7 391.9,567.0 396.4,567.3 C400.9,567.6 408.4,568.0 414.5,568.2 C420.6,568.4 426.6,568.6 432.7,568.7 C438.8,568.9 444.7,569.1 450.9,569.1 C457.1,569.1 463.5,569.0 470.0,569.0 C476.5,569.0 483.3,568.8 490.0,568.8 C496.7,568.8 503.3,568.7 510.0,568.7 C516.7,568.7 527.0,568.6 530.4,568.6" stroke="#ff0000" stroke-width="1.7" stroke-dasharray="0.01 2.6" stroke-linecap="round"/>
<path d="M68.5,570.0 C69.1,568.3 70.9,563.4 72.2,559.8 C73.5,556.2 74.9,552.0 76.3,548.4 C77.7,544.8 79.1,541.2 80.5,538.1 C81.9,535.0 83.2,532.6 84.6,529.8 C86.0,527.0 87.3,523.9 88.7,521.5 C90.1,519.1 91.9,517.1 92.9,515.3 C94.0,513.5 93.9,512.7 95.0,510.9 C96.1,509.1 98.2,506.3 99.5,504.5 C100.8,502.7 101.5,501.9 102.9,500.0 C104.3,498.1 106.1,495.2 107.7,492.9 C109.3,490.6 111.0,488.3 112.6,486.4 C114.2,484.5 115.9,483.2 117.5,481.6 C119.1,480.0 120.8,478.0 122.3,476.5 C123.8,475.0 125.3,473.6 126.8,472.4 C128.3,471.1 129.9,470.1 131.4,469.0 C132.9,467.9 134.4,466.9 135.9,465.7 C137.4,464.5 137.9,464.1 140.5,462.0 C143.1,459.9 147.6,455.6 151.3,453.0 C155.0,450.4 159.0,448.3 162.8,446.5 C166.6,444.7 171.3,443.0 174.3,442.0 C177.3,441.0 178.2,441.3 180.6,440.6 C183.0,439.9 186.0,438.9 188.7,438.0 C191.4,437.1 194.2,436.3 196.9,435.5 C199.6,434.7 202.9,433.8 205.1,433.3 C207.3,432.8 207.8,432.8 210.0,432.4 C212.2,432.0 215.4,431.2 218.3,430.7 C221.2,430.2 224.0,429.8 227.6,429.4 C231.2,429.0 236.8,428.5 240.0,428.2 C243.2,427.9 244.2,427.8 246.5,427.6 C248.8,427.5 252.6,427.4 253.8,427.3 C254.2,428.2 255.4,430.6 256.2,432.5 C257.0,434.4 257.8,436.6 258.7,439.0 C259.6,441.4 260.7,444.1 261.9,447.1 C263.1,450.1 264.6,453.8 266.0,456.8 C267.4,459.8 268.6,462.3 270.0,465.0 C271.4,467.7 272.6,470.4 274.1,473.1 C275.6,475.8 277.4,478.5 279.0,481.2 C280.6,483.9 282.3,486.9 283.9,489.3 C285.5,491.7 287.1,493.6 288.7,495.8 C290.3,498.0 290.8,499.0 293.6,502.5 C296.4,506.0 301.5,512.8 305.4,516.7 C309.3,520.6 313.3,523.4 317.2,526.1 C321.1,528.9 325.1,531.0 329.0,533.2 C332.9,535.4 336.9,536.9 340.8,539.1 C344.7,541.3 349.3,544.7 352.5,546.5 C355.7,548.3 357.1,548.8 360.0,550.0 C362.9,551.2 366.7,552.4 370.0,553.5 C373.3,554.6 376.2,555.5 380.0,556.4 C383.8,557.2 388.5,557.9 393.0,558.6 C397.5,559.3 402.5,560.0 407.0,560.7 C411.5,561.4 415.7,562.3 420.0,562.9 C424.3,563.5 427.6,563.9 432.7,564.5 C437.8,565.1 444.7,566.0 450.9,566.5 C457.1,567.0 463.5,567.2 470.0,567.5 C476.5,567.8 483.3,568.1 490.0,568.2 C496.7,568.3 503.3,568.3 510.0,568.3 C516.7,568.3 527.0,568.3 530.4,568.3" stroke="#ff00ff" stroke-width="1.7" stroke-dasharray="0.01 2.6" stroke-linecap="round"/>
<path d="M68.5,570.5 C69.1,569.6 70.8,567.2 72.0,565.0 C73.2,562.8 74.4,559.7 75.5,557.0 C76.6,554.3 77.5,551.7 78.5,549.0 C79.5,546.3 80.5,543.5 81.5,541.0 C82.5,538.5 83.4,536.3 84.5,534.0 C85.6,531.7 86.8,529.2 88.0,527.0 C89.2,524.8 90.6,522.7 92.0,520.5 C93.4,518.3 94.9,516.2 96.5,514.0 C98.1,511.8 99.8,509.6 101.5,507.5 C103.2,505.4 104.8,503.6 106.5,501.5 C108.2,499.4 110.0,497.2 112.0,495.0 C114.0,492.8 116.0,491.2 118.7,488.5 C121.4,485.8 125.1,481.5 128.3,478.8 C131.5,476.1 134.7,474.2 137.9,472.1 C141.1,470.0 144.3,468.1 147.5,466.3 C150.7,464.5 153.8,462.8 157.0,461.5 C160.2,460.2 163.4,459.5 166.6,458.7 C169.8,457.9 173.0,457.3 176.2,456.5 C179.4,455.7 182.7,454.8 185.8,454.0 C188.9,453.2 192.1,452.2 195.0,451.5 C197.9,450.8 200.5,450.2 203.0,449.6 C205.5,449.1 207.4,448.6 210.0,448.2 C212.6,447.8 215.4,447.4 218.3,446.9 C221.2,446.4 225.1,445.6 227.6,445.3 C230.1,445.0 231.0,445.0 233.2,444.9 C235.3,444.8 238.1,444.6 240.5,444.5 C242.9,444.4 245.3,444.3 247.7,444.1 C250.1,443.9 252.2,443.7 255.0,443.4 C257.8,443.1 261.5,442.7 264.4,442.5 C267.3,442.3 269.5,442.2 272.5,442.1 C275.5,442.0 280.9,441.9 282.6,441.9 C283.1,443.0 284.5,446.3 285.5,448.7 C286.5,451.1 287.3,453.3 288.7,456.0 C290.1,458.7 292.0,461.9 293.6,465.0 C295.2,468.1 296.9,471.4 298.5,474.7 C300.1,477.9 301.7,481.5 303.3,484.5 C304.9,487.5 305.9,489.2 308.2,492.6 C310.5,496.0 314.1,501.3 317.2,504.9 C320.3,508.5 323.5,511.1 326.6,514.3 C329.7,517.4 332.9,521.0 336.0,523.8 C339.1,526.5 342.4,528.4 345.5,530.8 C348.6,533.1 352.5,536.4 354.9,537.9 C357.3,539.4 357.6,538.9 360.0,540.0 C362.4,541.1 366.1,543.0 369.1,544.5 C372.1,546.0 375.2,547.7 378.2,549.1 C381.2,550.5 384.3,551.6 387.3,552.7 C390.3,553.8 393.4,554.6 396.4,555.5 C399.4,556.4 402.5,557.5 405.5,558.2 C408.5,559.0 411.5,559.4 414.5,560.0 C417.5,560.6 420.6,561.2 423.6,561.8 C426.6,562.4 429.7,563.1 432.7,563.6 C435.7,564.1 438.8,564.2 441.8,564.5 C444.8,564.8 447.9,565.2 450.9,565.5 C453.9,565.8 456.0,566.1 460.0,566.4 C464.0,566.7 470.0,567.0 475.0,567.2 C480.0,567.4 484.2,567.6 490.0,567.8 C495.8,568.0 503.3,568.1 510.0,568.2 C516.7,568.3 527.0,568.4 530.4,568.4" stroke="#008000" stroke-width="1.7" stroke-dasharray="0.01 2.6" stroke-linecap="round"/>
<path d="M68.5,555.6 C68.8,554.0 69.5,549.6 70.1,546.3 C70.7,543.0 71.5,538.9 72.2,536.0 C72.9,533.1 73.6,530.9 74.3,528.8 C75.0,526.7 75.4,525.5 76.3,523.6 C77.2,521.7 78.4,518.9 79.4,517.4 C80.4,515.9 81.6,515.5 82.5,514.8 C83.4,514.1 83.9,513.8 84.6,513.3 C85.3,512.8 85.9,512.5 86.7,511.7 C87.5,510.9 88.5,509.7 89.3,508.6 C90.1,507.5 90.7,506.4 91.3,505.0 C91.9,503.6 92.2,502.4 93.1,500.0 C93.9,497.6 95.3,493.9 96.4,490.5 C97.5,487.1 98.6,483.0 99.6,479.9 C100.5,476.8 101.3,474.6 102.1,471.8 C102.9,469.0 103.7,465.6 104.5,462.9 C105.3,460.2 106.1,457.9 106.9,455.6 C107.7,453.3 108.7,451.1 109.4,449.1 C110.2,447.1 110.6,445.4 111.4,443.7 C112.2,441.9 113.5,440.0 114.5,438.6 C115.5,437.2 116.6,436.7 117.7,435.5 C118.8,434.3 119.8,433.1 120.9,431.6 C122.0,430.1 123.0,428.5 124.1,426.5 C125.2,424.5 126.3,422.1 127.5,419.8 C128.7,417.5 130.0,414.8 131.2,412.8 C132.3,410.8 133.3,409.4 134.4,408.0 C135.5,406.6 136.4,405.5 137.5,404.2 C138.6,402.9 139.6,401.6 140.7,400.4 C141.8,399.2 142.8,398.2 143.9,397.2 C145.0,396.2 146.0,395.4 147.1,394.6 C148.2,393.8 149.2,393.2 150.3,392.4 C151.4,391.5 152.4,390.6 153.5,389.5 C154.6,388.4 155.5,387.2 156.6,385.7 C157.7,384.2 158.5,382.7 159.8,380.6 C161.1,378.5 163.1,375.1 164.4,373.3 C165.7,371.5 166.4,370.8 167.5,369.8 C168.6,368.8 169.6,368.0 170.7,367.5 C171.8,367.0 172.8,366.8 173.9,366.6 C175.0,366.4 176.0,366.4 177.1,366.3 C178.2,366.2 179.2,366.3 180.3,366.0 C181.4,365.7 182.4,365.2 183.5,364.7 C184.6,364.2 185.5,363.6 186.6,363.1 C187.7,362.6 188.7,361.9 189.8,361.5 C190.9,361.1 192.0,360.6 193.0,360.4 C194.0,360.2 195.0,360.0 195.9,360.2 C196.8,360.4 197.7,360.6 198.6,361.4 C199.5,362.2 200.3,363.6 201.4,365.0 C202.5,366.4 203.7,368.0 205.0,369.5 C206.3,371.0 208.0,372.8 209.5,374.1 C211.0,375.4 212.8,376.0 214.1,377.2 C215.4,378.4 216.5,379.4 217.6,381.2 C218.7,382.9 219.6,385.1 220.9,387.7 C222.2,390.3 224.0,393.8 225.5,396.8 C227.0,399.8 228.3,402.9 230.0,405.9 C231.7,408.9 233.8,412.3 235.5,415.0 C237.2,417.7 238.4,419.8 240.0,421.9 C241.6,424.0 243.3,425.3 244.9,427.6 C246.5,429.9 248.1,433.0 249.7,435.7 C251.3,438.4 253.0,441.2 254.6,443.9 C256.2,446.6 257.9,449.6 259.5,452.0 C261.1,454.4 262.8,456.5 264.4,458.5 C266.0,460.5 267.6,462.7 269.2,464.2 C270.8,465.7 272.5,465.9 274.1,467.4 C275.7,468.9 277.4,470.8 279.0,473.1 C280.6,475.4 282.3,478.5 283.9,481.2 C285.5,483.9 287.1,486.9 288.7,489.3 C290.3,491.7 292.0,493.9 293.6,495.8 C295.2,497.7 296.9,499.1 298.5,500.7 C300.1,502.3 301.4,503.5 303.3,505.6 C305.2,507.7 307.4,510.6 310.1,513.2 C312.8,515.8 316.4,518.9 319.5,521.4 C322.6,523.9 325.9,526.5 329.0,528.5 C332.1,530.5 335.3,531.4 338.4,533.2 C341.5,535.0 345.2,537.6 347.8,539.1 C350.4,540.6 352.0,541.3 354.0,542.5 C356.0,543.7 358.1,545.1 360.0,546.4 C361.9,547.6 363.7,548.8 365.5,550.0 C367.3,551.2 369.1,552.4 370.9,553.6 C372.7,554.8 374.6,556.2 376.4,557.3 C378.2,558.4 380.0,559.2 381.8,560.0 C383.6,560.8 385.5,561.3 387.3,561.8 C389.1,562.2 390.9,562.4 392.7,562.7 C394.5,563.0 396.4,563.1 398.2,563.6 C400.0,564.1 401.8,565.0 403.6,565.5 C405.4,566.0 407.3,566.4 409.1,566.9 C410.9,567.4 412.1,567.8 414.5,568.2 C416.9,568.6 420.6,569.1 423.6,569.5 C426.6,569.9 429.7,570.3 432.7,570.5 C435.7,570.7 438.9,570.8 441.8,570.9 C444.7,571.0 447.6,571.2 450.0,571.3 C452.4,571.4 454.1,571.6 456.2,571.3 C458.3,571.0 460.3,570.1 462.4,569.7 C464.4,569.3 466.4,569.2 468.5,569.0 C470.6,568.8 472.6,568.4 474.7,568.2 C476.8,568.0 478.8,568.0 480.9,567.9 C483.0,567.8 485.0,567.6 487.1,567.4 C489.2,567.2 491.2,566.8 493.3,566.6 C495.4,566.4 497.4,566.4 499.5,566.3 C501.6,566.2 503.6,566.0 505.6,565.9 C507.7,565.8 509.7,566.0 511.8,565.9 C513.9,565.8 515.9,565.3 518.0,565.1 C520.1,564.9 522.1,564.8 524.2,564.8 C526.3,564.8 529.4,565.3 530.4,565.4" stroke="#0000ff" stroke-width="1.35"/>
<path d="M68.5,571.8 C69.1,571.6 71.1,571.2 72.2,570.6 C73.3,570.0 74.3,569.3 75.3,568.0 C76.2,566.7 77.1,565.1 77.9,562.9 C78.7,560.7 79.4,557.2 80.0,554.6 C80.6,552.0 80.9,549.8 81.5,547.4 C82.1,545.0 82.8,542.4 83.6,540.1 C84.4,537.9 85.2,536.0 86.2,533.9 C87.2,531.8 88.2,529.8 89.3,527.7 C90.4,525.6 91.9,523.5 92.9,521.5 C93.9,519.5 94.4,517.8 95.5,515.5 C96.6,513.2 98.1,509.8 99.5,507.5 C100.9,505.2 102.6,503.7 104.1,501.8 C105.6,499.9 107.1,498.4 108.6,496.4 C110.1,494.4 111.7,492.3 113.2,490.0 C114.7,487.7 116.2,485.3 117.7,482.7 C119.2,480.1 120.8,477.2 122.3,474.5 C123.8,471.8 125.4,468.8 126.8,466.4 C128.2,464.0 129.1,462.0 130.5,460.0 C131.9,458.0 133.8,456.5 135.5,454.2 C137.2,451.9 139.4,448.0 141.0,446.0 C142.6,444.0 143.5,443.7 145.0,442.0 C146.5,440.3 148.3,438.0 150.0,436.0 C151.7,434.0 153.3,431.8 155.0,430.0 C156.7,428.2 158.3,426.9 160.0,425.5 C161.7,424.1 163.3,422.8 165.0,421.5 C166.7,420.2 168.3,418.8 170.0,417.5 C171.7,416.2 173.3,414.8 175.0,413.5 C176.7,412.2 178.3,410.6 180.0,409.5 C181.7,408.4 183.5,407.5 185.0,407.0 C186.5,406.5 187.7,406.3 189.0,406.5 C190.3,406.7 191.7,407.1 193.0,408.0 C194.3,408.9 195.8,410.6 197.0,412.0 C198.2,413.4 199.2,414.8 200.5,416.5 C201.8,418.2 203.5,420.0 205.1,422.0 C206.7,424.0 208.3,425.8 210.0,428.7 C211.7,431.6 213.7,435.9 215.4,439.3 C217.1,442.7 218.3,445.6 220.2,448.9 C222.0,452.2 224.6,456.1 226.5,459.0 C228.4,461.9 229.6,464.1 231.5,466.4 C233.4,468.7 235.8,470.8 237.9,472.7 C240.0,474.6 242.2,476.3 244.3,477.8 C246.4,479.3 248.7,480.3 250.6,481.6 C252.5,482.9 254.0,484.1 255.7,485.5 C257.4,486.9 259.1,488.5 260.8,489.9 C262.5,491.3 264.2,492.5 265.9,493.7 C267.6,494.9 269.3,496.0 271.0,496.9 C272.7,497.8 274.4,498.2 276.1,498.8 C277.8,499.4 279.6,500.1 281.2,500.5 C282.8,500.9 284.0,500.9 285.5,501.5 C287.0,502.1 288.7,502.9 290.3,503.9 C291.9,504.8 293.8,506.0 295.2,507.2 C296.6,508.4 297.3,508.6 299.0,511.0 C300.7,513.4 303.1,517.7 305.4,521.4 C307.6,525.1 310.1,529.7 312.5,533.2 C314.9,536.7 317.1,539.7 319.5,542.6 C321.9,545.5 324.2,548.3 326.6,550.9 C329.0,553.5 331.3,555.8 333.7,558.0 C336.1,560.2 338.4,562.1 340.8,563.9 C343.2,565.7 345.5,566.6 347.8,568.6 C350.1,570.6 352.9,573.7 354.9,575.7 C356.9,577.8 358.2,579.3 360.0,580.9 C361.8,582.5 363.7,584.3 365.5,585.5 C367.3,586.7 369.1,587.3 370.9,588.2 C372.7,589.1 374.6,589.9 376.4,590.9 C378.2,591.9 380.0,593.3 381.8,594.5 C383.6,595.7 385.5,597.1 387.3,598.2 C389.1,599.3 390.9,600.1 392.7,600.9 C394.5,601.6 396.4,602.2 398.2,602.7 C400.0,603.2 401.8,603.5 403.6,604.0 C405.4,604.5 407.3,605.2 409.1,605.8 C410.9,606.3 413.0,607.0 414.5,607.3 C416.0,607.6 416.8,607.8 418.2,607.6 C419.6,607.5 421.2,607.1 422.7,606.4 C424.2,605.7 425.6,604.7 427.3,603.6 C429.0,602.5 430.9,601.0 432.7,600.0 C434.5,599.0 436.4,598.2 438.2,597.3 C440.0,596.4 441.8,595.3 443.6,594.5 C445.4,593.7 447.0,593.4 449.1,592.7 C451.2,592.1 454.0,591.3 456.2,590.6 C458.4,589.9 460.3,589.1 462.4,588.3 C464.4,587.5 466.4,586.6 468.5,586.0 C470.6,585.4 472.6,584.9 474.7,584.4 C476.8,583.9 478.8,583.3 480.9,582.9 C483.0,582.5 485.0,582.2 487.1,581.8 C489.2,581.4 491.2,580.8 493.3,580.5 C495.4,580.2 497.7,580.0 499.5,579.8 C501.3,579.5 502.6,579.5 504.1,579.0 C505.6,578.5 507.1,577.6 508.7,576.7 C510.2,575.8 511.8,574.8 513.4,573.6 C514.9,572.4 516.5,570.6 518.0,569.7 C519.5,568.8 521.1,568.5 522.6,568.2 C524.1,567.9 526.0,567.9 527.3,567.9 C528.6,567.9 529.9,568.2 530.4,568.2" stroke="#ff0000" stroke-width="1.35"/>
<path d="M68.5,573.1 C69.2,573.0 71.3,572.9 72.4,572.3 C73.5,571.7 74.3,571.1 75.2,569.6 C76.1,568.1 77.1,565.9 78.0,563.5 C78.9,561.1 79.8,557.7 80.5,555.0 C81.2,552.3 81.7,549.9 82.4,547.4 C83.1,544.9 83.8,542.4 84.6,540.1 C85.4,537.9 86.2,536.0 87.2,533.9 C88.2,531.8 89.2,529.8 90.3,527.7 C91.4,525.6 92.8,523.5 93.9,521.5 C95.0,519.5 96.1,517.2 97.0,515.5 C97.9,513.8 98.3,512.4 99.5,511.5 C100.7,510.6 102.6,510.7 104.1,510.0 C105.6,509.3 107.1,508.8 108.6,507.3 C110.1,505.8 111.7,503.5 113.2,500.9 C114.7,498.3 116.2,494.7 117.7,491.8 C119.2,488.9 120.8,486.2 122.3,483.6 C123.8,481.0 125.6,478.0 126.8,476.4 C128.0,474.8 128.6,474.2 129.5,474.1 C130.4,474.0 131.2,475.0 132.3,475.5 C133.4,476.0 134.9,477.3 135.9,477.3 C136.9,477.3 137.7,476.7 138.6,475.5 C139.5,474.3 140.5,472.0 141.4,470.0 C142.3,468.0 142.8,466.6 144.1,463.6 C145.4,460.6 147.9,454.3 149.4,452.0 C150.9,449.7 151.9,450.0 153.2,450.0 C154.5,450.0 155.7,451.4 157.0,452.0 C158.3,452.6 159.3,454.2 160.9,453.9 C162.5,453.6 164.7,451.6 166.6,450.0 C168.5,448.4 170.8,446.2 172.4,444.3 C174.1,442.4 175.1,440.0 176.5,438.5 C177.9,437.0 178.8,436.5 180.6,435.3 C182.4,434.1 185.2,432.0 187.1,431.2 C189.0,430.4 190.4,430.3 192.0,430.4 C193.6,430.5 195.3,432.1 196.9,432.0 C198.5,431.9 200.2,430.6 201.8,429.6 C203.4,428.7 205.3,427.1 206.7,426.3 C208.1,425.5 208.7,424.7 210.0,424.6 C211.3,424.5 212.8,425.5 214.5,425.9 C216.2,426.3 218.3,427.1 220.2,426.8 C222.1,426.5 224.1,424.8 226.0,424.3 C227.9,423.8 229.8,423.3 231.7,423.6 C233.6,423.9 236.1,425.5 237.5,425.9 C238.9,426.3 238.8,426.5 240.0,426.0 C241.2,425.5 243.4,424.1 244.9,422.7 C246.4,421.3 247.7,418.8 248.9,417.9 C250.1,417.0 251.1,417.0 252.2,417.5 C253.3,418.0 254.3,419.6 255.4,421.1 C256.5,422.7 257.5,425.2 258.7,426.8 C259.9,428.4 261.3,429.3 262.7,430.9 C264.1,432.5 265.4,434.8 266.8,436.5 C268.2,438.2 269.4,439.9 270.9,441.4 C272.4,442.9 274.1,444.6 275.7,445.5 C277.3,446.4 279.2,446.3 280.6,446.8 C282.0,447.3 282.8,447.3 283.9,448.7 C285.0,450.1 285.8,452.5 287.1,455.2 C288.5,457.9 290.4,461.8 292.0,465.0 C293.6,468.2 295.2,471.4 296.8,474.7 C298.4,477.9 300.1,481.4 301.7,484.5 C303.3,487.6 304.8,490.8 306.6,493.4 C308.4,496.0 310.4,498.3 312.5,500.2 C314.6,502.1 317.1,502.9 319.5,504.9 C321.9,506.9 324.2,509.6 326.6,512.0 C329.0,514.4 331.3,516.9 333.7,519.1 C336.1,521.3 338.4,523.8 340.8,525.0 C343.2,526.2 345.9,525.7 347.8,526.1 C349.8,526.5 350.7,526.5 352.5,527.3 C354.3,528.1 356.2,529.0 358.4,530.8 C360.6,532.6 363.4,536.5 365.5,538.2 C367.6,539.9 369.1,539.5 370.9,540.9 C372.7,542.3 374.6,544.7 376.4,546.4 C378.2,548.1 380.4,550.1 381.8,551.3 C383.2,552.4 384.0,552.8 385.0,553.3 C386.0,553.8 387.0,553.9 388.0,554.0 C389.0,554.1 389.9,553.6 391.0,553.8 C392.1,554.0 393.3,554.8 394.5,555.3 C395.7,555.8 397.0,557.0 398.2,557.1 C399.4,557.2 400.6,556.0 401.8,556.0 C403.0,556.0 404.3,556.6 405.5,557.4 C406.7,558.2 408.1,559.8 409.1,561.0 C410.1,562.2 410.4,563.4 411.3,564.5 C412.2,565.6 413.1,567.1 414.5,567.4 C415.9,567.7 418.2,566.6 420.0,566.4 C421.8,566.2 423.7,566.2 425.5,566.4 C427.3,566.5 429.1,566.5 430.9,567.3 C432.7,568.0 434.6,569.5 436.4,570.9 C438.2,572.3 440.0,574.4 441.8,575.5 C443.6,576.6 445.6,577.2 447.3,577.3 C449.0,577.4 450.8,576.8 452.0,576.3 C453.2,575.8 453.4,574.6 454.6,574.4 C455.8,574.2 457.8,574.7 459.3,575.1 C460.9,575.5 462.4,576.7 463.9,576.7 C465.4,576.7 466.9,575.8 468.5,575.1 C470.1,574.5 471.6,573.2 473.2,572.8 C474.8,572.4 476.2,572.8 477.8,572.5 C479.4,572.2 481.2,572.0 482.5,571.3 C483.8,570.6 484.2,569.0 485.5,568.2 C486.8,567.4 488.4,566.9 490.2,566.6 C492.0,566.3 494.3,566.7 496.4,566.6 C498.4,566.5 500.7,566.4 502.5,565.9 C504.3,565.4 505.9,564.1 507.2,563.9 C508.5,563.7 509.0,564.2 510.3,564.8 C511.6,565.4 513.4,566.7 514.9,567.4 C516.4,568.1 518.0,568.7 519.6,569.0 C521.2,569.3 522.4,569.1 524.2,569.0 C526.0,568.9 529.4,568.6 530.4,568.5" stroke="#ff00ff" stroke-width="1.35"/>
<path d="M68.5,573.5 C69.1,573.1 71.1,571.9 72.2,571.2 C73.3,570.5 74.3,570.3 75.3,569.1 C76.3,567.9 77.5,566.1 78.4,563.9 C79.4,561.6 80.2,558.4 81.0,555.6 C81.8,552.9 82.3,550.0 83.1,547.4 C83.9,544.8 84.8,542.4 85.6,540.1 C86.4,537.9 87.2,536.0 88.2,533.9 C89.2,531.8 90.2,529.8 91.3,527.7 C92.4,525.6 94.0,523.4 94.9,521.5 C95.8,519.6 96.0,518.2 96.8,516.5 C97.6,514.8 98.8,512.8 100.0,511.0 C101.2,509.2 101.9,507.9 104.1,505.5 C106.3,503.1 110.2,499.6 113.2,496.4 C116.2,493.2 119.6,489.3 122.3,486.4 C125.0,483.5 127.2,480.9 129.5,479.1 C131.8,477.3 133.3,477.2 135.9,475.5 C138.5,473.8 142.4,471.1 145.0,469.1 C147.6,467.1 149.3,465.0 151.3,463.4 C153.3,461.8 155.1,460.4 157.0,459.6 C158.9,458.8 160.9,458.9 162.8,458.7 C164.7,458.5 166.6,459.0 168.5,458.7 C170.4,458.4 172.4,457.4 174.3,456.7 C176.2,456.0 178.1,455.1 180.0,454.6 C181.9,454.1 183.8,453.9 185.7,453.7 C187.6,453.5 189.6,454.0 191.5,453.7 C193.4,453.4 195.3,452.0 197.2,451.7 C199.1,451.4 201.2,451.5 203.0,451.7 C204.8,451.9 206.1,453.0 207.8,452.7 C209.6,452.4 211.4,450.6 213.5,449.8 C215.6,449.0 217.8,448.5 220.2,447.9 C222.6,447.3 225.8,446.4 227.9,446.0 C230.0,445.6 231.0,445.3 233.0,445.5 C235.0,445.7 237.8,447.1 240.0,447.1 C242.2,447.1 244.3,445.9 246.5,445.5 C248.7,445.1 250.8,445.2 253.0,444.7 C255.2,444.1 257.3,442.5 259.5,442.2 C261.7,441.9 264.1,442.3 266.0,442.6 C267.9,442.9 269.3,443.3 270.9,444.2 C272.5,445.1 274.1,446.6 275.7,447.9 C277.3,449.2 279.0,450.8 280.6,452.0 C282.2,453.2 283.9,454.1 285.5,454.9 C287.1,455.7 288.7,455.8 290.3,456.8 C291.9,457.8 293.6,459.1 295.2,460.9 C296.8,462.7 298.5,465.1 300.1,467.4 C301.7,469.7 303.4,472.4 305.0,474.7 C306.6,477.0 308.4,479.5 310.0,481.2 C311.6,482.9 312.8,482.9 314.8,484.9 C316.8,486.9 319.5,489.8 321.9,493.1 C324.3,496.4 326.6,501.0 329.0,504.9 C331.4,508.8 333.6,512.8 336.0,516.7 C338.4,520.6 340.7,524.6 343.1,528.5 C345.5,532.4 348.2,537.4 350.2,540.3 C352.2,543.1 353.4,544.1 355.0,545.6 C356.6,547.1 358.2,547.9 360.0,549.1 C361.8,550.3 363.7,551.3 365.5,552.7 C367.3,554.1 369.1,555.6 370.9,557.3 C372.7,559.0 374.6,560.7 376.4,562.7 C378.2,564.7 380.0,567.1 381.8,569.1 C383.6,571.1 385.5,572.8 387.3,574.5 C389.1,576.2 390.9,577.7 392.7,579.1 C394.5,580.5 396.4,581.5 398.2,582.7 C400.0,583.9 401.8,585.5 403.6,586.4 C405.4,587.3 407.3,587.9 409.1,588.2 C410.9,588.5 412.7,588.5 414.5,588.2 C416.3,587.9 418.2,587.2 420.0,586.4 C421.8,585.6 423.7,584.7 425.5,583.6 C427.3,582.5 429.1,581.2 430.9,580.0 C432.7,578.8 434.6,577.5 436.4,576.4 C438.2,575.3 440.0,574.4 441.8,573.6 C443.6,572.8 445.5,572.2 447.3,571.8 C449.1,571.3 450.9,571.2 452.7,570.9 C454.5,570.6 456.6,570.3 458.2,569.9 C459.8,569.5 460.7,568.9 462.4,568.2 C464.1,567.5 466.4,566.7 468.5,565.9 C470.6,565.1 472.6,564.1 474.7,563.5 C476.8,562.9 478.8,562.5 480.9,562.3 C483.0,562.1 485.0,562.1 487.1,562.3 C489.2,562.4 491.2,562.9 493.3,563.2 C495.4,563.5 497.4,563.8 499.5,564.3 C501.6,564.8 503.6,565.2 505.6,565.9 C507.7,566.5 509.7,567.4 511.8,568.2 C513.9,569.0 515.9,569.8 518.0,570.5 C520.1,571.2 522.1,572.1 524.2,572.5 C526.3,572.9 529.4,573.0 530.4,573.1" stroke="#008000" stroke-width="1.35"/>
</g>
<g font-family="'Liberation Sans', Arial, Helvetica, sans-serif" font-size="14.3" fill="#2a2a2a" stroke="#2a2a2a" stroke-width="0.15">
<text x="65" y="608.1" text-anchor="end">-0.005</text>
<text x="65" y="576.0" text-anchor="end">0</text>
<text x="65" y="543.9" text-anchor="end">0.005</text>
<text x="65" y="511.8" text-anchor="end">0.01</text>
<text x="65" y="479.7" text-anchor="end">0.015</text>
<text x="65" y="447.6" text-anchor="end">0.02</text>
<text x="65" y="415.5" text-anchor="end">0.025</text>
<text x="65" y="383.4" text-anchor="end">0.03</text>
<text x="68.7" y="626.9" text-anchor="middle">0</text>
<text x="126.5" y="626.9" text-anchor="middle">0.1</text>
<text x="184.3" y="626.9" text-anchor="middle">0.2</text>
<text x="242.1" y="626.9" text-anchor="middle">0.3</text>
<text x="299.8" y="626.9" text-anchor="middle">0.4</text>
<text x="357.6" y="626.9" text-anchor="middle">0.5</text>
<text x="415.4" y="626.9" text-anchor="middle">0.6</text>
<text x="473.2" y="626.9" text-anchor="middle">0.7</text>
<text x="531.0" y="626.9" text-anchor="middle">0.8</text>
</g>
<text x="300.6" y="646.2" text-anchor="middle" font-family="'Liberation Sans', Arial, Helvetica, sans-serif" font-size="15.4" fill="#2a2a2a" stroke="#2a2a2a" stroke-width="0.15">Time (s)</text>
<text transform="translate(19.9,476.9) rotate(-90)" text-anchor="middle" font-family="'Liberation Sans', Arial, Helvetica, sans-serif" font-size="16" textLength="138" lengthAdjust="spacingAndGlyphs" fill="#2a2a2a" stroke="#2a2a2a" stroke-width="0.15">Panel Velocity (m/s)</text>
<text x="275.2" y="669.6" text-anchor="middle" font-family="'Liberation Serif', 'Times New Roman', serif" font-size="17.8" fill="#000">(<tspan font-weight="bold">b</tspan>)</text>
<rect x="328.6" y="349.8" width="125.5" height="30.6" fill="#fff" stroke="#2a2a2a" stroke-width="1.4"/>
<line x1="330.2" y1="355.5" x2="343" y2="355.5" stroke="#222" stroke-width="1.2"/>
<line x1="330.2" y1="371.9" x2="343" y2="371.9" stroke="#222" stroke-width="1.3" stroke-dasharray="3.6 1.1 1.6 1.1"/>
<text x="344.5" y="360.7" font-family="'Liberation Sans', Arial, Helvetica, sans-serif" font-size="13.4" fill="#000" stroke="#000" stroke-width="0.2">Experimental Data</text>
<text x="344.5" y="377.3" font-family="'Liberation Sans', Arial, Helvetica, sans-serif" font-size="13.4" fill="#000" stroke="#000" stroke-width="0.2">Model Prediction</text>
<rect x="460.2" y="348.5" width="68.3" height="83.6" fill="#fff" stroke="#7a7a7a" stroke-width="1"/>
<line x1="463.2" y1="361.1" x2="479.3" y2="361.1" stroke="#0000ff" stroke-width="1.6"/>
<text x="486" y="365.7" font-family="'DejaVu Sans', 'Liberation Sans', sans-serif" font-size="13" fill="#000" stroke="#000" stroke-width="0.15">707 V</text>
<line x1="463.2" y1="380.8" x2="479.3" y2="380.8" stroke="#ff0000" stroke-width="1.6"/>
<text x="486" y="385.4" font-family="'DejaVu Sans', 'Liberation Sans', sans-serif" font-size="13" fill="#000" stroke="#000" stroke-width="0.15">566 V</text>
<line x1="463.2" y1="400.5" x2="479.3" y2="400.5" stroke="#ff00ff" stroke-width="1.6"/>
<text x="486" y="405.1" font-family="'DejaVu Sans', 'Liberation Sans', sans-serif" font-size="13" fill="#000" stroke="#000" stroke-width="0.15">495 V</text>
<line x1="463.2" y1="420.2" x2="479.3" y2="420.2" stroke="#008000" stroke-width="1.6"/>
<text x="486" y="424.8" font-family="'DejaVu Sans', 'Liberation Sans', sans-serif" font-size="13" fill="#000" stroke="#000" stroke-width="0.15">425 V</text>
</svg></body></html>
